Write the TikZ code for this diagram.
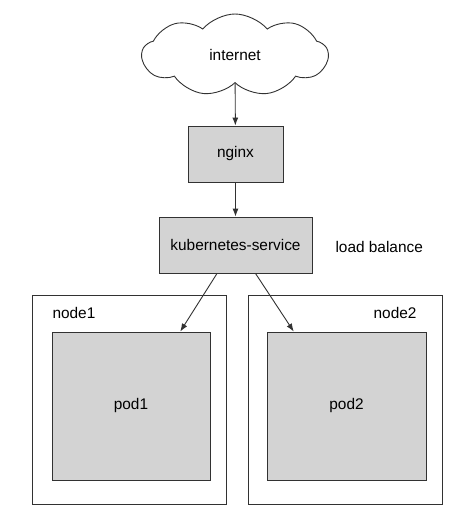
\documentclass[tikz,border=0pt]{standalone}
\usepackage{fontspec}
\setmainfont{Liberation Sans}
\usetikzlibrary{arrows.meta,calc,shapes.symbols}

\definecolor{boxgray}{RGB}{211,211,211}
\definecolor{linegray}{RGB}{50,50,50}

\tikzset{
  every node/.style={font=\fontsize{15.4}{18}\selectfont},
  graybox/.style={draw=linegray,line width=0.9pt,fill=boxgray,inner sep=0pt},
  hostbox/.style={draw=linegray,line width=0.9pt,fill=white,inner sep=0pt},
  arr/.style={-{Latex[length=8pt,width=6pt]},draw=linegray,line width=0.9pt}
}

\begin{document}
\begin{tikzpicture}[x=1pt,y=-1pt]
\useasboundingbox[fill=white] (0,0) rectangle (474,527);
\node[cloud,draw=linegray,line width=0.9pt,cloud puffs=9,cloud puff arc=100,aspect=2.2,
  minimum width=186,minimum height=82,inner sep=0pt] (inet) at (235,55) {internet};
\node[graybox,minimum width=95,minimum height=56] (nginx) at (235.5,154) {nginx};
\node[graybox,minimum width=153,minimum height=56] (ks) at (235.5,245) {kubernetes-service};
\node[anchor=west] (lb) at (332,247) {load balance};
% hosts and pods
\node[hostbox,minimum width=194,minimum height=209] (node1) at (129,399.5) {};
\node[hostbox,minimum width=194,minimum height=209] (node2) at (345,399.5) {};
\node[anchor=west] (node1lbl) at (49,313) {node1};
\node[anchor=east] (node2lbl) at (420,313) {node2};
\node[graybox,minimum width=158,minimum height=148] (pod1) at (131,406) {pod1};
\node[graybox,minimum width=159,minimum height=148] (pod2) at (346.5,406) {pod2};
% connectors
\draw[arr] (inet) -- (nginx);
\draw[arr] (nginx) -- (ks);
\draw[arr] ($(ks.south west)!0.38!(ks.south east)$) -- ($(pod1.north west)!0.81!(pod1.north east)$);
\draw[arr] ($(ks.south west)!0.63!(ks.south east)$) -- ($(pod2.north west)!0.17!(pod2.north east)$);
\end{tikzpicture}
\end{document}
